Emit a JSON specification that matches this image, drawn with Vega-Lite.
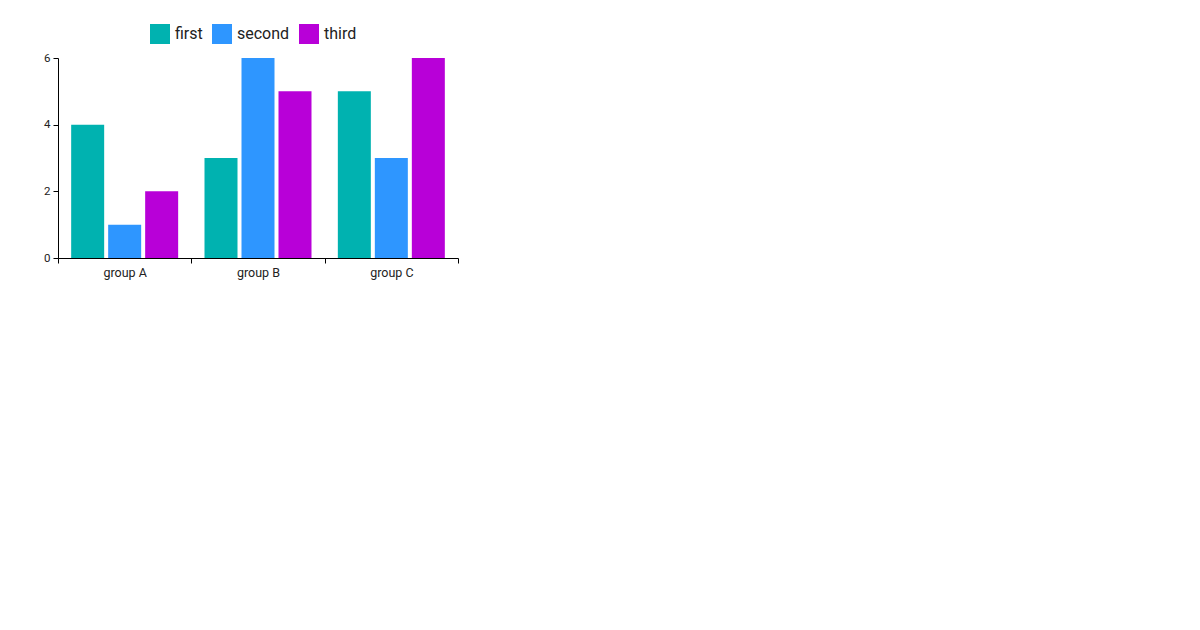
{
  "$schema": "https://vega.github.io/schema/vega-lite/v6.json",
  "autosize": "none",
  "padding": {"left": 58, "top": 58, "right": 20, "bottom": 40},
  "width": 400,
  "height": 200,
  "data": {
    "values": [
      {"group": "group A", "series": "first", "value": 4},
      {"group": "group A", "series": "second", "value": 1},
      {"group": "group A", "series": "third", "value": 2},
      {"group": "group B", "series": "first", "value": 3},
      {"group": "group B", "series": "second", "value": 6},
      {"group": "group B", "series": "third", "value": 5},
      {"group": "group C", "series": "first", "value": 5},
      {"group": "group C", "series": "second", "value": 3},
      {"group": "group C", "series": "third", "value": 6}
    ]
  },
  "mark": {"type": "bar"},
  "encoding": {
    "x": {
      "field": "group",
      "type": "nominal",
      "title": null,
      "scale": {"paddingInner": 0, "paddingOuter": 0},
      "axis": {"labelAngle": 0, "tickBand": "extent", "labelFontSize": 12.5, "labelPadding": 3}
    },
    "xOffset": {
      "field": "series",
      "type": "nominal",
      "scale": {"paddingInner": 0.108, "paddingOuter": 0.356}
    },
    "y": {
      "field": "value",
      "type": "quantitative",
      "title": null,
      "scale": {"domain": [0, 6]},
      "axis": {"values": [0, 2, 4, 6], "grid": false, "labelFontSize": 11.5, "labelPadding": 3}
    },
    "color": {
      "field": "series",
      "type": "nominal",
      "title": null,
      "scale": {"domain": ["first", "second", "third"], "range": ["#00b2b0", "#2e96ff", "#b800d8"]},
      "legend": {
        "orient": "none",
        "legendX": 92,
        "legendY": -34,
        "direction": "horizontal",
        "symbolType": "square",
        "symbolSize": 400,
        "symbolStrokeWidth": 0,
        "symbolOpacity": 1,
        "labelFontSize": 16,
        "labelOffset": 5,
        "columnPadding": 9
      }
    }
  },
  "config": {
    "font": "Roboto",
    "view": {"stroke": null},
    "axis": {"domainColor": "#000", "tickColor": "#000", "labelColor": "#222", "tickSize": 5, "labelFont": "Roboto"},
    "legend": {"labelColor": "#222", "labelFont": "Roboto"}
  }
}
